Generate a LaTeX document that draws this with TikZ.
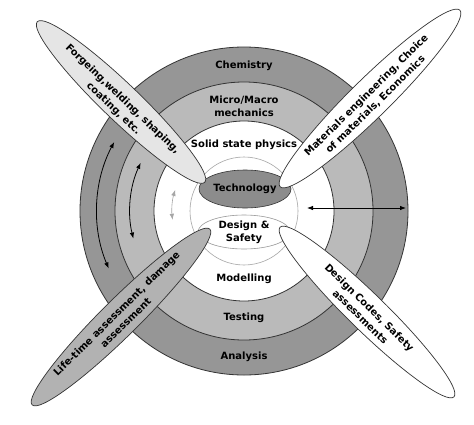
\documentclass[tikz,border=0pt]{standalone}
\usepackage{fontspec}
\setmainfont{DejaVu Sans}
\usetikzlibrary{shapes.geometric,arrows.meta}
\definecolor{bandA}{gray}{0.59}
\definecolor{bandB}{gray}{0.73}
\definecolor{techc}{gray}{0.55}
\definecolor{bladeL}{gray}{0.90}
\definecolor{bladeM}{gray}{0.70}
\definecolor{edge}{gray}{0.2}
\begin{document}
\begin{tikzpicture}[x=1bp,y=1bp,
  ring/.style={circle,draw=edge,line width=0.8bp,inner sep=0pt},
  blade/.style={ellipse,draw=edge,line width=0.7bp,inner sep=0pt},
  lbl/.style={font=\fontsize{10bp}{13bp}\selectfont\bfseries,align=center,inner sep=0pt},
  blbl/.style={font=\fontsize{10bp}{13bp}\selectfont\bfseries,align=center,inner sep=0pt},
  dbl/.style={{Latex[length=6bp,width=4.5bp]}-{Latex[length=6bp,width=4.5bp]},line width=0.8bp}
]
\useasboundingbox (0,0) rectangle (474,424);
\coordinate (C) at (244,213);
% rings
\node[ring,fill=bandA,minimum size=328bp] (r1) at (C) {};
\node[ring,fill=bandB,minimum size=258bp] (r2) at (C) {};
\node[ring,fill=white,minimum size=180bp] (r3) at (C) {};
\node[ring,draw=gray!70,line width=0.6bp,minimum size=108bp] (r4) at (C) {};
% centre ellipses
\node[ellipse,fill=techc,draw=edge,line width=0.6bp,minimum width=92bp,minimum height=38bp,inner sep=0pt,lbl] (tech) at (245,235) {Technology};
\node[ellipse,fill=white,draw=gray!80,line width=0.6bp,minimum width=92bp,minimum height=34bp,inner sep=0pt,lbl] (design) at (244,192) {Design \&\\Safety};
% ring labels
\node[lbl] (chem) at (244,358) {Chemistry};
\node[lbl] (micro) at (244,318) {Micro/Macro\\mechanics};
\node[lbl] (solid) at (244,279) {Solid state physics};
\node[lbl] (model) at (244,145) {Modelling};
\node[lbl] (test) at (244,106) {Testing};
\node[lbl] (anal) at (244,67) {Analysis};
% arrows
\coordinate (aA) at ([shift={(152:147)}]C);
\coordinate (aB) at ([shift={(155:114)}]C);
\coordinate (aC) at ([shift={(163:72)}]C);
\draw[dbl] (aA) arc[start angle=152,end angle=203,radius=147];
\draw[dbl] (aB) arc[start angle=155,end angle=194,radius=114];
\draw[dbl,draw=gray!70,line width=0.6bp] (aC) arc[start angle=163,end angle=187,radius=72];
\coordinate (hL) at (307,216);
\coordinate (hR) at (406,216);
\draw[dbl] (hL) -- (hR);
% blades
\node[blade,fill=bladeL,minimum width=232bp,minimum height=37bp,rotate=-43.8] (b1) at (121,322) {};
\node[blade,fill=white,minimum width=252bp,minimum height=39bp,rotate=44.5] (b2) at (370,325.5) {};
\node[blade,fill=bladeM,minimum width=250bp,minimum height=37bp,rotate=44.7] (b3) at (121,107) {};
\node[blade,fill=white,minimum width=243bp,minimum height=37bp,rotate=-44.3] (b4) at (367,112) {};
\node[blbl,rotate=-43.8] (t1) at (118,320) {Forgeing,welding, shaping,\\coating, etc.};
\node[blbl,rotate=44.5] (t2) at (371,324) {Materials engineering, Choice\\of materials, Economics};
\node[blbl,rotate=44.7] (t3) at (121,106) {Life-time assessment, damage\\assessment};
\node[blbl,rotate=-44.3] (t4) at (365,112) {Design Codes, Safety\\assessments};
\end{tikzpicture}
\end{document}
